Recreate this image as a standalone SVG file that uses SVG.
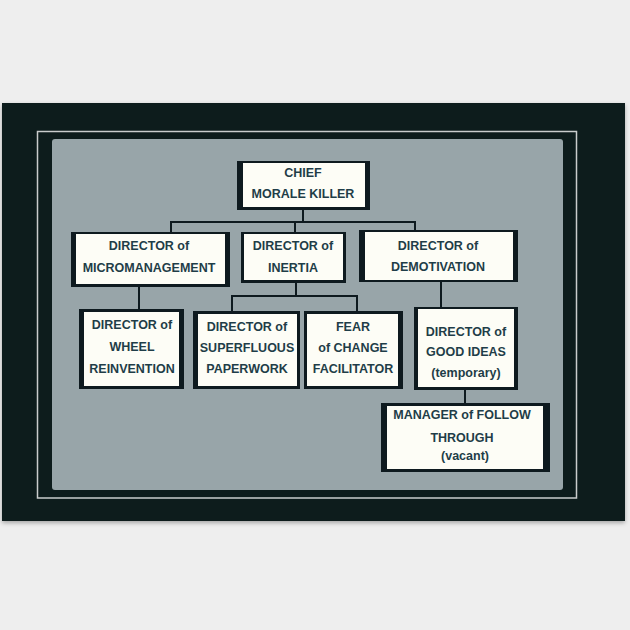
<svg xmlns="http://www.w3.org/2000/svg" width="630" height="630" viewBox="0 0 630 630">
<defs>
<filter id="sh" x="-5%" y="-5%" width="110%" height="115%">
<feDropShadow dx="0" dy="2" stdDeviation="2" flood-color="#000" flood-opacity="0.3"/>
</filter>
</defs>
<style>
.outer{fill:#0e1a1f}
.inner{fill:#fdfdf6}
.t{font-family:"Liberation Sans","DejaVu Sans",sans-serif;font-weight:bold;font-size:12.5px;fill:#1f3d48;text-anchor:middle}
.c{stroke:#0e1a1f;stroke-width:2;fill:none}
</style>
<rect x="0" y="0" width="630" height="630" fill="#eeeeee"/>
<rect x="2" y="103" width="623" height="418" fill="#0d1a1f" filter="url(#sh)"/>
<rect x="37.5" y="131.5" width="539" height="366.5" fill="none" stroke="#c9cccc" stroke-width="1.5"/>
<rect x="52" y="139" width="511" height="351" rx="3" fill="#98a5a9"/>

<g id="connectors">
<path class="c" d="M303 210 V222 M171 232 V222 H415 V230 M295 222 V232"/>
<path class="c" d="M139 287 V309"/>
<path class="c" d="M296 282 V296 M232 311 V296 H357 V311"/>
<path class="c" d="M441 282 V307"/>
<path class="c" d="M465 390 V404"/>
</g>

<g id="chief">
<rect class="outer" x="237" y="161" width="133" height="49"/>
<rect class="inner" x="243" y="163" width="122" height="44"/>
<text class="t" x="303" y="177">CHIEF</text>
<text class="t" x="303" y="198">MORALE KILLER</text>
</g>

<g id="micromanagement">
<rect class="outer" x="71" y="232" width="159" height="55"/>
<rect class="inner" x="76" y="234" width="149" height="50"/>
<text class="t" x="149" y="250">DIRECTOR of</text>
<text class="t" x="149" y="272">MICROMANAGEMENT</text>
</g>

<g id="inertia">
<rect class="outer" x="241" y="232" width="105" height="51"/>
<rect class="inner" x="244" y="234" width="99" height="46"/>
<text class="t" x="293" y="250">DIRECTOR of</text>
<text class="t" x="293" y="272">INERTIA</text>
</g>

<g id="demotivation">
<rect class="outer" x="359" y="230" width="159" height="52"/>
<rect class="inner" x="365" y="232" width="148" height="48"/>
<text class="t" x="438" y="250">DIRECTOR of</text>
<text class="t" x="438" y="271">DEMOTIVATION</text>
</g>

<g id="wheel">
<rect class="outer" x="79" y="309" width="105" height="80"/>
<rect class="inner" x="84" y="312" width="95" height="74"/>
<text class="t" x="132" y="329">DIRECTOR of</text>
<text class="t" x="132" y="351">WHEEL</text>
<text class="t" x="132" y="373">REINVENTION</text>
</g>

<g id="superfluous">
<rect class="outer" x="193" y="311" width="107" height="78"/>
<rect class="inner" x="198" y="314" width="99" height="72"/>
<text class="t" x="247" y="331">DIRECTOR of</text>
<text class="t" x="247" y="352">SUPERFLUOUS</text>
<text class="t" x="247" y="373">PAPERWORK</text>
</g>

<g id="fear">
<rect class="outer" x="304" y="311" width="99" height="78"/>
<rect class="inner" x="307" y="314" width="91" height="72"/>
<text class="t" x="353" y="331">FEAR</text>
<text class="t" x="353" y="352">of CHANGE</text>
<text class="t" x="353" y="373">FACILITATOR</text>
</g>

<g id="goodideas">
<rect class="outer" x="414" y="307" width="104" height="83"/>
<rect class="inner" x="418" y="309" width="96" height="78"/>
<text class="t" x="466" y="336">DIRECTOR of</text>
<text class="t" x="466" y="356">GOOD IDEAS</text>
<text class="t" x="466" y="377">(temporary)</text>
</g>

<g id="manager">
<rect class="outer" x="381" y="403" width="169" height="69"/>
<rect class="inner" x="387" y="406" width="156" height="63"/>
<text class="t" x="462" y="419">MANAGER of FOLLOW</text>
<text class="t" x="462" y="442">THROUGH</text>
<text class="t" x="465" y="460">(vacant)</text>
</g>
</svg>
